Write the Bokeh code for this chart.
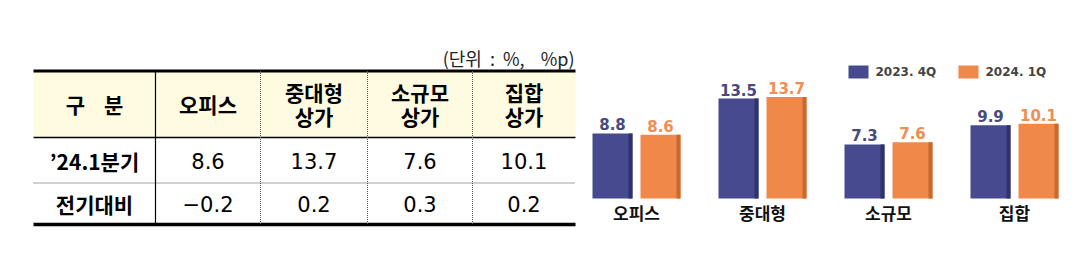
from bokeh.plotting import figure
from bokeh.layouts import row
from bokeh.models import Range1d, ColumnDataSource
from bokeh.core.properties import value
from bokeh.embed import file_html
from bokeh.resources import INLINE

# ---------------- data ----------------
categories = ["오피스", "중대형", "소규모", "집합"]
series_names = ["2023. 4Q", "2024. 1Q"]
vals_2023q4 = [8.8, 13.5, 7.3, 9.9]
vals_2024q1 = [8.6, 13.7, 7.6, 10.1]

NB = "\u00a0"
table_header_l1 = ["구" + NB * 4 + "분", "오피스", "중대형", "소규모", "집합"]
table_header_l2 = ["", "", "상가", "상가", "상가"]
table_row_labels = ["\u201924.1분기", "전기대비"]
table_row1 = ["8.6", "13.7", "7.6", "10.1"]
table_row2 = ["\u22120.2", "0.2", "0.3", "0.2"]
unit_text = "(단위" + NB * 2 + ":" + NB * 2 + "%," + NB * 4 + "%p)"

# ---------------- styles ----------------
KR = "Noto Sans CJK KR"
BLUE, BLUE_D, BLUE_T = "#474a8e", "#30326a", "#47497f"
ORANGE, ORANGE_D, ORANGE_T = "#f08849", "#c9682f", "#f08d52"

# ---------------- table figure ----------------
TW, H = 590, 260
t = figure(width=TW, height=H, x_range=Range1d(0, TW), y_range=Range1d(H, 0),
           output_backend="svg", toolbar_location=None, min_border=0)
t.axis.visible = False
t.grid.visible = False
t.outline_line_color = None
t.background_fill_color = "white"
t.border_fill_color = "white"

col_edges = [33, 155, 260, 367, 472, 575]
y_top, y_head, y_mid, y_bot = 70.5, 137, 182.5, 224
centers = [(col_edges[i] + col_edges[i + 1]) / 2 for i in range(5)]

# header background
t.quad(left=[col_edges[0]], right=[col_edges[-1]], top=[y_top], bottom=[y_head],
       fill_color="#fefbe0", line_color=None)

# horizontal rules
t.segment(x0=[col_edges[0]], x1=[col_edges[-1]], y0=[y_top], y1=[y_top], line_color="black", line_width=3)
t.segment(x0=[col_edges[0]], x1=[col_edges[-1]], y0=[y_head], y1=[y_head], line_color="black", line_width=1.5)
t.segment(x0=[col_edges[0]], x1=[col_edges[-1]], y0=[y_mid], y1=[y_mid], line_color="#444444",
          line_width=1, line_dash="1 1")
t.segment(x0=[col_edges[0]], x1=[col_edges[-1]], y0=[y_bot], y1=[y_bot], line_color="black", line_width=3.5)
# vertical rules
t.segment(x0=[col_edges[1]], x1=[col_edges[1]], y0=[y_top], y1=[y_bot], line_color="black", line_width=1.2)
t.segment(x0=col_edges[2:5], x1=col_edges[2:5], y0=[y_top] * 3, y1=[y_bot] * 3,
          line_color="#555555", line_width=1, line_dash="1 1")

# unit text
t.text(x=[574], y=[57], text=[unit_text], text_align="right", text_baseline="middle",
       text_font=value(KR), text_font_size="18px", text_color="#222222")

# header texts
single = [i for i in range(5) if table_header_l2[i] == ""]
double = [i for i in range(5) if table_header_l2[i] != ""]
FS_H = "21px"
t.text(x=[centers[i] for i in single], y=[103] * len(single), text=[table_header_l1[i] for i in single],
       text_align="center", text_baseline="middle", text_font=value(KR), text_font_style="bold",
       text_font_size=FS_H, text_color="black")
t.text(x=[centers[i] for i in double], y=[91] * len(double), text=[table_header_l1[i] for i in double],
       text_align="center", text_baseline="middle", text_font=value(KR), text_font_style="bold",
       text_font_size=FS_H, text_color="black")
t.text(x=[centers[i] for i in double], y=[115] * len(double), text=[table_header_l2[i] for i in double],
       text_align="center", text_baseline="middle", text_font=value(KR), text_font_style="bold",
       text_font_size=FS_H, text_color="black")

# row labels
row_y = [160, 203]
t.text(x=[centers[0]] * 2, y=row_y, text=table_row_labels, text_align="center", text_baseline="middle",
       text_font=value(KR), text_font_style="bold", text_font_size=FS_H, text_color="black")
# row values
t.text(x=centers[1:], y=[row_y[0]] * 4, text=table_row1, text_align="center", text_baseline="middle",
       text_font=value("DejaVu Sans"), text_font_size="21px", text_color="black")
t.text(x=centers[1:], y=[row_y[1]] * 4, text=table_row2, text_align="center", text_baseline="middle",
       text_font=value("DejaVu Sans"), text_font_size="21px", text_color="black")

# ---------------- bar chart figure ----------------
BW = 1087 - TW
px_per_group = 126.0
x0_px = 46.0
base_px = 62.0
px_per_unit = 7.4
xr = Range1d(-x0_px / px_per_group, (BW - x0_px) / px_per_group)
yr = Range1d(-base_px / px_per_unit, (H - base_px) / px_per_unit)
b = figure(width=BW, height=H, x_range=xr, y_range=yr, output_backend="svg",
           toolbar_location=None, min_border=0)
b.axis.visible = False
b.grid.visible = False
b.outline_line_color = None
b.background_fill_color = "white"
b.border_fill_color = "white"

idx = list(range(len(categories)))
off = 24 / px_per_group
bar_w = 40 / px_per_group
side_w = 4 / px_per_group

for vals, dx, c, cd, ct in [(vals_2023q4, -off, BLUE, BLUE_D, BLUE_T),
                            (vals_2024q1, off, ORANGE, ORANGE_D, ORANGE_T)]:
    xs = [i + dx for i in idx]
    src = ColumnDataSource(dict(x=xs, top=vals, xs=[x + bar_w / 2 - side_w / 2 for x in xs],
                                lbl=[f"{v:.1f}" for v in vals]))
    b.vbar(x="x", top="top", bottom=0, width=bar_w, source=src, fill_color=c, line_color=None)
    b.vbar(x="xs", top="top", bottom=0, width=side_w, source=src, fill_color=cd, line_color=None)
    b.text(x="x", y="top", text="lbl", source=src, text_align="center", text_baseline="bottom",
           y_offset=-3, text_font=value("DejaVu Sans"), text_font_style="bold",
           text_font_size="15px", text_color=ct)

# category labels
b.text(x=idx, y=[-14 / px_per_unit] * len(idx), text=categories, text_align="center",
       text_baseline="middle", text_font=value(KR), text_font_style="bold",
       text_font_size="17px", text_color="#111111")

# legend (manual)
def to_x(px):
    return (px - TW - x0_px) / px_per_group

def to_y(py):
    return (H - py - base_px) / px_per_unit

leg_sq = [(848, 868), (958, 978)]
leg_txt_x = [875, 985]
for (l, r), c in zip(leg_sq, [BLUE, ORANGE]):
    b.quad(left=[to_x(l)], right=[to_x(r)], top=[to_y(65)], bottom=[to_y(78)], fill_color=c, line_color=None)
b.text(x=[to_x(v) for v in leg_txt_x], y=[to_y(71.5)] * 2, text=series_names, text_align="left",
       text_baseline="middle", text_font=value("DejaVu Sans"), text_font_style="bold",
       text_font_size="12px", text_color="#444444")

layout = row(t, b)
open("out.html", "w").write(file_html(layout, INLINE))
